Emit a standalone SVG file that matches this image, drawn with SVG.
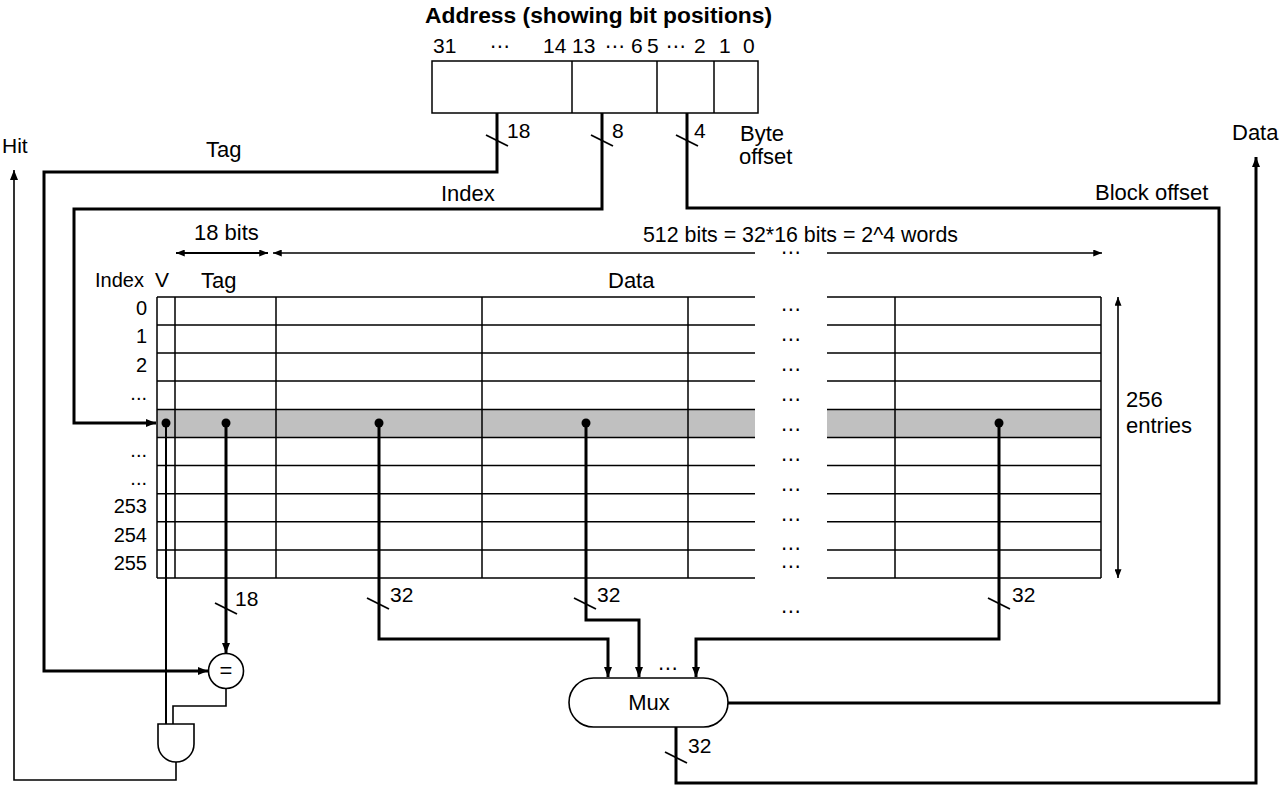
<svg xmlns="http://www.w3.org/2000/svg" width="1280" height="786" viewBox="0 0 1280 786">
<style>
text{font-family:"Liberation Sans",Arial,sans-serif;font-size:22px;fill:#000}
.b{font-weight:bold;font-size:22.5px}
.s20{font-size:20px}
.s21{font-size:21px}
.dots{font-family:"DejaVu Sans",sans-serif;font-size:20px}
.w{fill:none;stroke:#000;stroke-width:3}
.thin{fill:none;stroke:#000;stroke-width:1.6}
.grid{fill:none;stroke:#000;stroke-width:1.5}
.sl{stroke:#000;stroke-width:1.8}
</style>
<defs>
<marker id="ah" viewBox="0 0 10 8" refX="10" refY="4" markerWidth="11" markerHeight="8" markerUnits="userSpaceOnUse" orient="auto-start-reverse"><path d="M0,0 L10,4 L0,8 z" fill="#000"/></marker>
<marker id="ahs" viewBox="0 0 10 8" refX="10" refY="4" markerWidth="10" markerHeight="7" markerUnits="userSpaceOnUse" orient="auto-start-reverse"><path d="M0,0 L10,4 L0,8 z" fill="#000"/></marker>
</defs>
<rect width="1280" height="786" fill="#fff"/>

<g id="address">
<text class="b" x="425" y="23" textLength="347" lengthAdjust="spacingAndGlyphs">Address (showing bit positions)</text>
<text class="s21" x="433" y="53">31</text>
<text class="dots" x="490" y="53">⋯</text>
<text class="s21" x="543" y="53">14</text>
<text class="s21" x="572" y="53">13</text>
<text class="dots" x="605" y="53">⋯</text>
<text class="s21" x="631" y="53">6</text>
<text class="s21" x="647" y="53">5</text>
<text class="dots" x="666" y="53">⋯</text>
<text class="s21" x="694" y="53">2</text>
<text class="s21" x="719" y="53">1</text>
<text class="s21" x="743" y="53">0</text>
<rect x="432" y="61" width="326" height="52" class="grid"/>
<line x1="572" y1="61" x2="572" y2="113" class="grid"/>
<line x1="657" y1="61" x2="657" y2="113" class="grid"/>
<line x1="714" y1="61" x2="714" y2="113" class="grid"/>
<text x="740" y="141">Byte</text>
<text x="739" y="164">offset</text>
</g>

<g id="cache-table">
<rect x="157" y="409" width="598" height="28" fill="#c0c0c0"/>
<rect x="827" y="409" width="274" height="28" fill="#c0c0c0"/>
<path class="grid" d="M157,297H755M157,325H755M157,353H755M157,381H755M157,409.4H755M157,437.5H755M157,465.6H755M157,493.7H755M157,521.8H755M157,549.9H755M157,578H755"/>
<path class="grid" d="M827,297H1101M827,325H1101M827,353H1101M827,381H1101M827,409.4H1101M827,437.5H1101M827,465.6H1101M827,493.7H1101M827,521.8H1101M827,549.9H1101M827,578H1101"/>
<path class="grid" d="M157,297V578M175,297V578M276,297V578M482,297V578M688,297V578M895,297V578M1101,297V578"/>
<text class="s20" x="95" y="287">Index</text>
<text class="s21" x="155" y="287">V</text>
<text x="201" y="288">Tag</text>
<text x="608" y="288">Data</text>
<g text-anchor="end">
<text class="s20" x="147" y="315">0</text>
<text class="s20" x="147" y="343">1</text>
<text class="s20" x="147" y="372">2</text>
<text class="s20" x="147" y="400">...</text>
<text class="s20" x="147" y="457">...</text>
<text class="s20" x="147" y="485">...</text>
<text class="s20" x="147" y="513">253</text>
<text class="s20" x="147" y="542">254</text>
<text class="s20" x="147" y="570">255</text>
</g>
<g text-anchor="middle">
<text class="dots" x="791" y="259">⋯</text>
<text class="dots" x="791" y="316">⋯</text>
<text class="dots" x="791" y="346">⋯</text>
<text class="dots" x="791" y="376">⋯</text>
<text class="dots" x="791" y="406">⋯</text>
<text class="dots" x="791" y="436">⋯</text>
<text class="dots" x="791" y="466">⋯</text>
<text class="dots" x="791" y="496">⋯</text>
<text class="dots" x="791" y="526">⋯</text>
<text class="dots" x="791" y="555">⋯</text>
<text class="dots" x="791" y="573">⋯</text>
<text class="dots" x="791" y="618">⋯</text>
</g>
<text x="194" y="240">18 bits</text>
<line x1="176" y1="253" x2="268" y2="253" stroke="#000" stroke-width="2" marker-start="url(#ahs)" marker-end="url(#ahs)"/>
<text x="643" y="242" textLength="315" lengthAdjust="spacingAndGlyphs">512 bits = 32*16 bits = 2^4 words</text>
<line x1="273" y1="253" x2="755" y2="253" class="thin" marker-start="url(#ahs)"/>
<line x1="827" y1="253" x2="1102" y2="253" class="thin" marker-end="url(#ahs)"/>
<line x1="1118" y1="297" x2="1118" y2="578" class="thin" marker-start="url(#ahs)" marker-end="url(#ahs)"/>
<text x="1126" y="407">256</text>
<text x="1126" y="433">entries</text>
</g>

<g id="comparator">
<circle cx="226" cy="671" r="17.5" fill="#fff" stroke="#000" stroke-width="1.6"/>
<text x="226" y="678" text-anchor="middle">=</text>
</g>

<g id="and-gate">
<path d="M158,724H194V744A18,18 0 0 1 158,744Z" fill="#fff" stroke="#000" stroke-width="1.6"/>
</g>

<g id="mux">
<rect x="569" y="678" width="159" height="49" rx="24.5" ry="24.5" fill="#fff" stroke="#000" stroke-width="1.6"/>
<text x="649" y="710" text-anchor="middle">Mux</text>
<text class="dots" x="668" y="675" text-anchor="middle">⋯</text>
</g>

<g id="connectors">
<path class="w" d="M497,113V172H44V671H208" marker-end="url(#ah)"/>
<line class="sl" x1="486" y1="135" x2="508" y2="146"/>
<text class="s21" x="507" y="138">18</text>
<text x="206" y="157">Tag</text>
<path class="w" d="M602,113V209H74V423H156" marker-end="url(#ah)"/>
<line class="sl" x1="591" y1="135" x2="613" y2="146"/>
<text class="s21" x="612" y="138">8</text>
<text x="441" y="201">Index</text>
<path class="w" d="M687,113V208H1219V703H728"/>
<line class="sl" x1="676" y1="135" x2="698" y2="146"/>
<text class="s21" x="694" y="138">4</text>
<text x="1095" y="200">Block offset</text>
<g fill="#000">
<circle cx="166" cy="423" r="4.5"/>
<circle cx="226" cy="423" r="4.5"/>
<circle cx="379" cy="423" r="4.5"/>
<circle cx="586" cy="423" r="4.5"/>
<circle cx="999" cy="423" r="4.5"/>
</g>
<line x1="166" y1="423" x2="166" y2="724" stroke="#000" stroke-width="2"/>
<path class="w" d="M226,423V653" marker-end="url(#ah)"/>
<line class="sl" x1="215" y1="603" x2="237" y2="614"/>
<text class="s21" x="235" y="606">18</text>
<path class="thin" d="M226,688.5V706H173V724"/>
<path class="thin" d="M176,762V780H14V170" marker-end="url(#ah)"/>
<text class="s21" x="2" y="153">Hit</text>
<path class="w" d="M379,423V639H608V677" marker-end="url(#ah)"/>
<line class="sl" x1="367" y1="598" x2="389" y2="609"/>
<text class="s21" x="390" y="602">32</text>
<path class="w" d="M586,423V620H639V677" marker-end="url(#ah)"/>
<line class="sl" x1="574" y1="598" x2="596" y2="609"/>
<text class="s21" x="597" y="602">32</text>
<path class="w" d="M999,423V639H696V677" marker-end="url(#ah)"/>
<line class="sl" x1="988" y1="598" x2="1010" y2="609"/>
<text class="s21" x="1012" y="602">32</text>
<path class="w" d="M676,727V783H1256V157" marker-end="url(#ah)"/>
<line class="sl" x1="665" y1="752" x2="687" y2="763"/>
<text class="s21" x="688" y="753">32</text>
<text x="1232" y="140">Data</text>
</g>
</svg>
